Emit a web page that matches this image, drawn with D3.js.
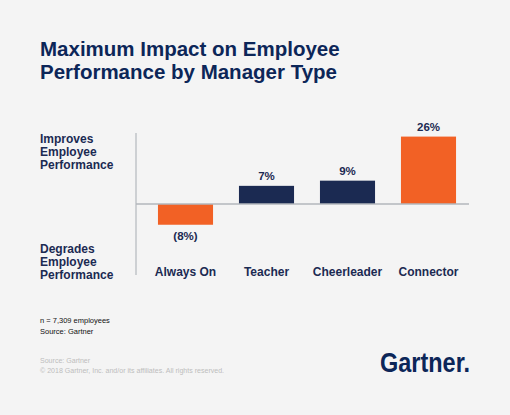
<!DOCTYPE html>
<html lang="en">
<head>
<meta charset="utf-8">
<title>Maximum Impact on Employee Performance by Manager Type</title>
<script src="https://d3js.org/d3.v7.min.js"></script>
<style>
  body { margin: 0; background: #f4f4f4; }
  svg { display: block; font-family: "Liberation Sans", Arial, sans-serif; }
</style>
</head>
<body>
<div id="chart"></div>
<script>
// Data
var categories = ["Always On", "Teacher", "Cheerleader", "Connector"];
var values = [-8, 7, 9, 26];
var highlight = [true, false, false, true];
var titleLines = ["Maximum Impact on Employee", "Performance by Manager Type"];
var upLabel = ["Improves", "Employee", "Performance"];
var downLabel = ["Degrades", "Employee", "Performance"];
var notes = ["n = 7,309 employees", "Source: Gartner"];
var footer = ["Source: Gartner", "\u00a9 2018 Gartner, Inc. and/or its affiliates. All rights reserved."];

var navy = "#1b2a52", orange = "#f26125", grey = "#b3b7bd";
var width = 510, height = 415;

var svg = d3.select("#chart").append("svg")
  .attr("width", width).attr("height", height);
svg.append("rect").attr("width", width).attr("height", height).attr("fill", "#f4f4f4");

// Title
svg.append("g").selectAll("text").data(titleLines).join("text")
  .attr("x", 40).attr("y", function(d, i) { return 56 + i * 23; })
  .attr("fill", "#0c2658").attr("font-size", 20.5).attr("font-weight", "bold")
  .text(function(d) { return d; });

// Scales
var x = d3.scaleBand().domain(categories).range([145, 469])
  .paddingInner(0.32).paddingOuter(0.16);
var y = d3.scaleLinear().domain([-27, 27]).range([274, 134]);

// Bars
svg.append("g").selectAll("rect").data(values).join("rect")
  .attr("x", function(d, i) { return x(categories[i]); })
  .attr("width", x.bandwidth())
  .attr("y", function(d) { return y(Math.max(0, d)); })
  .attr("height", function(d) { return Math.abs(y(d) - y(0)); })
  .attr("fill", function(d, i) { return highlight[i] ? orange : navy; });

// Axes: vertical line and zero baseline
var yAxis = svg.append("g").attr("transform", "translate(136,0)")
  .call(d3.axisLeft(y).tickValues([]).tickSizeOuter(0));
yAxis.select(".domain").attr("stroke", grey).attr("stroke-width", 1.2)
  .attr("d", "M0," + (y(-27) + 1) + "V" + (y(27) - 1));

var xAxis = svg.append("g").attr("transform", "translate(0," + y(0) + ")")
  .call(d3.axisBottom(x).tickValues([]).tickSizeOuter(0));
xAxis.select(".domain").attr("stroke", grey).attr("stroke-width", 1.5)
  .attr("d", "M136,0H469");

// Value labels
svg.append("g").selectAll("text").data(values).join("text")
  .attr("x", function(d, i) { return x(categories[i]) + x.bandwidth() / 2; })
  .attr("y", function(d) { return d >= 0 ? y(d) - 6 : y(d) + 15; })
  .attr("text-anchor", "middle").attr("fill", navy)
  .attr("font-size", 11.5).attr("font-weight", "bold")
  .text(function(d) { return d < 0 ? "(" + Math.abs(d) + "%)" : d + "%"; });

// Category labels
svg.append("g").selectAll("text").data(categories).join("text")
  .attr("x", function(d) { return x(d) + x.bandwidth() / 2; })
  .attr("y", 276)
  .attr("text-anchor", "middle").attr("fill", navy)
  .attr("font-size", 12).attr("font-weight", "bold")
  .text(function(d) { return d; });

// Side labels
function sideLabel(lines, y0) {
  svg.append("g").selectAll("text").data(lines).join("text")
    .attr("x", 40).attr("y", function(d, i) { return y0 + i * 13; })
    .attr("fill", navy).attr("font-size", 12).attr("font-weight", "bold")
    .text(function(d) { return d; });
}
sideLabel(upLabel, 143);
sideLabel(downLabel, 253);

// Notes
svg.append("g").selectAll("text").data(notes).join("text")
  .attr("x", 40).attr("y", function(d, i) { return 323 + i * 10.5; })
  .attr("fill", "#111").attr("font-size", 7.5)
  .text(function(d) { return d; });

svg.append("g").selectAll("text").data(footer).join("text")
  .attr("x", 40).attr("y", function(d, i) { return 363 + i * 10; })
  .attr("fill", "#bdbdbd").attr("font-size", 7.05)
  .text(function(d) { return d; });

// Logo
svg.append("text").attr("x", 380).attr("y", 372)
  .attr("fill", "#0c2658").attr("font-size", 27).attr("font-weight", "bold")
  .attr("textLength", 90).attr("lengthAdjust", "spacingAndGlyphs")
  .text("Gartner.");
</script>
</body>
</html>
